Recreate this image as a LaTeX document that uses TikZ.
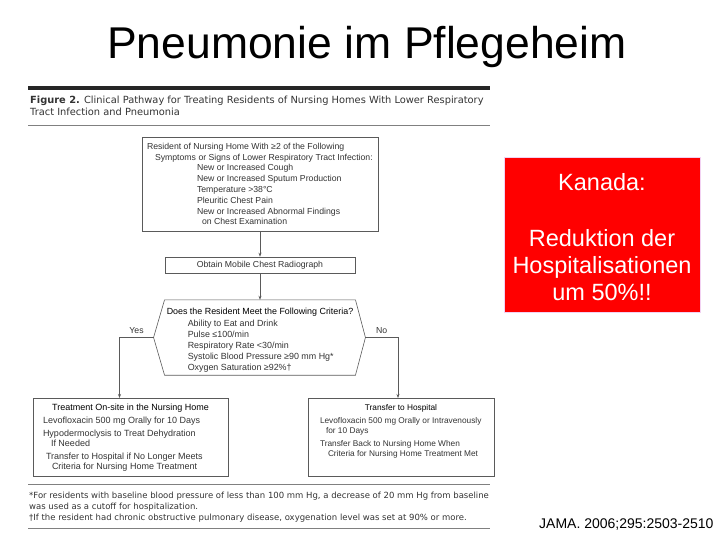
\documentclass[tikz,border=0pt]{standalone}
\usepackage{fontspec}
\setmainfont{Liberation Sans}
\newfontfamily\notefamily{DejaVu Sans}
\usetikzlibrary{arrows.meta,calc}

\definecolor{figtext}{HTML}{333333}
\definecolor{figline}{HTML}{5A5A5A}
\definecolor{kanadaedge}{HTML}{F2D2F2}

\newcommand{\figfont}{\fontsize{8.7}{10.8}\selectfont}
\newcommand{\boxfont}{\fontsize{9}{10}\selectfont}
\newcommand{\hospfont}{\fontsize{8.3}{10}\selectfont}
\newcommand{\notefont}{\notefamily\fontsize{8.5}{11}\selectfont}

\begin{document}
\begin{tikzpicture}[x=1pt, y=-1pt,
    flowbox/.style={draw=figline, line width=0.6pt, text=figtext, font=\figfont,
        align=left, inner xsep=5pt, inner ysep=4pt},
    flowarrow/.style={draw=figline, line width=0.6pt, -{Stealth[length=4pt, width=3pt]}},
    thinrule/.style={draw=black!50, line width=0.7pt}]

    \useasboundingbox (0,0) rectangle (728,546);

    % Title
    \node[anchor=base, font=\fontsize{44.5}{50}\selectfont] (title) at (367,58) {Pneumonie im Pflegeheim};

    % Figure heading
    \draw[line width=4pt, black!85] (28,88) -- (490,88);
    \node[anchor=north west, align=left, inner sep=0pt, text=figtext,
        font=\notefamily\fontsize{9.85}{12}\selectfont] (caption) at (30,95.5)
        {\textbf{Figure 2.} Clinical Pathway for Treating Residents of Nursing Homes With Lower Respiratory\\
         Tract Infection and Pneumonia};
    \draw[thinrule] (28,125) -- (490,125);

    % Symptoms
    \node[flowbox, minimum width=236pt, minimum height=94pt] (resident) at (260,184) {
        \makebox[226pt][l]{Resident of Nursing Home With ≥2 of the Following}\\
        \hspace*{8pt}Symptoms or Signs of Lower Respiratory Tract Infection:\\
        \hspace*{50pt}New or Increased Cough\\
        \hspace*{50pt}New or Increased Sputum Production\\
        \hspace*{50pt}Temperature >38°C\\
        \hspace*{50pt}Pleuritic Chest Pain\\
        \hspace*{50pt}New or Increased Abnormal Findings\\
        \hspace*{55pt}on Chest Examination};

    % Radiograph
    \node[flowbox, align=center, minimum width=190pt, minimum height=16pt, inner ysep=2pt]
        (radio) at (260,265) {Obtain Mobile Chest Radiograph};

    % Criteria (hexagon)
    \node[text=figtext, align=left, minimum width=188pt, minimum height=75pt, inner sep=2pt,
        font=\fontsize{8.9}{11.2}\selectfont] (crit) at (260,340.5) {
        \textcolor{black}{Does the Resident Meet the Following Criteria?}\\
        \hspace*{21pt}Ability to Eat and Drink\\
        \hspace*{21pt}Pulse ≤100/min\\
        \hspace*{21pt}Respiratory Rate <30/min\\
        \hspace*{21pt}Systolic Blood Pressure ≥90 mm Hg*\\
        \hspace*{21pt}Oxygen Saturation ≥92\%†};
    \coordinate (critT) at ([yshift=3pt]crit.north);
    \coordinate (critL) at ([xshift=-11pt, yshift=3pt]crit.west);
    \coordinate (critR) at ([xshift=10pt, yshift=3pt]crit.east);
    \draw[figline, line width=0.6pt] ([yshift=3pt]crit.north west) -- (critL)
        -- ([yshift=3pt]crit.south west) -- ([yshift=3pt]crit.south east) -- (critR)
        -- ([yshift=3pt]crit.north east) -- cycle;

    % Treatment boxes
    \node[flowbox, font=\boxfont, anchor=north, minimum width=195pt, minimum height=78pt, inner ysep=5pt]
        (treat) at (130.5,398) {
        \makebox[185pt]{\textcolor{black}{Treatment On-site in the Nursing Home}}\\[3pt]
        \hspace*{5pt}Levofloxacin 500 mg Orally for 10 Days\\[3pt]
        \hspace*{5pt}Hypodermoclysis to Treat Dehydration\\
        \hspace*{13pt}If Needed\\[3pt]
        \hspace*{8pt}Transfer to Hospital if No Longer Meets\\
        \hspace*{14pt}Criteria for Nursing Home Treatment};
    \node[flowbox, font=\hospfont, anchor=north, minimum width=186pt, minimum height=78pt, inner ysep=5pt]
        (hosp) at (401,398) {
        \makebox[176pt]{\textcolor{black}{Transfer to Hospital}}\\[3pt]
        \hspace*{7pt}Levofloxacin 500 mg Orally or Intravenously\\
        \hspace*{13pt}for 10 Days\\[3pt]
        \hspace*{7pt}Transfer Back to Nursing Home When\\
        \hspace*{15pt}Criteria for Nursing Home Treatment Met\\[3pt]
        \mbox{}};

    % Connectors
    \draw[flowarrow] (resident) -- (radio);
    \draw[flowarrow] (radio) -- (critT);
    \draw[flowarrow] (critL) -| ([xshift=-11pt]treat.north)
        node[pos=0.25, above, text=figtext, font=\figfont] (yes) {Yes};
    \draw[flowarrow] (critR) -| ([xshift=-3pt]hosp.north)
        node[pos=0.25, above, text=figtext, font=\figfont] (no) {No};

    % Footnotes
    \draw[thinrule] (28,484) -- (490,484);
    \node[anchor=north west, align=left, inner sep=0pt, text=figtext, font=\notefont]
        (notes) at (29,492)
        {*For residents with baseline blood pressure of less than 100 mm Hg, a decrease of 20 mm Hg from baseline\\
         was used as a cutoff for hospitalization.\\
         †If the resident had chronic obstructive pulmonary disease, oxygenation level was set at 90\% or more.};
    \draw[thinrule] (28,528) -- (490,528);

    % Kanada box
    \node[fill=red, draw=kanadaedge, line width=1pt,
        minimum width=196pt, minimum height=155pt] (kanada) at (602,234.5) {};
    \node[text=white, align=center, font=\fontsize{23.5}{27}\selectfont]
        (kanadatext) at ([yshift=-3pt]kanada.center)
        {Kanada:\\[29pt]Reduktion der\\Hospitalisationen\\um 50\%!!};

    % Source
    \node[anchor=base west, inner sep=0pt, font=\fontsize{14}{16}\selectfont] (source) at (539,528)
        {JAMA. 2006;295:2503-2510};

\end{tikzpicture}
\end{document}
